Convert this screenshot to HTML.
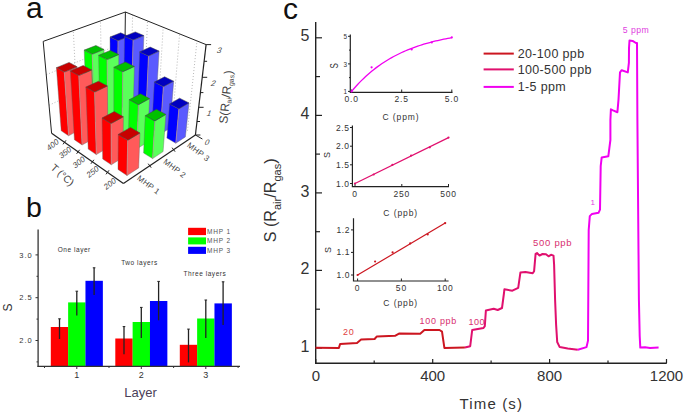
<!DOCTYPE html>
<html><head><meta charset="utf-8"><style>
html,body{margin:0;padding:0;background:#fff;}
body{width:685px;height:414px;overflow:hidden;}
svg{display:block;}
</style></head><body>
<svg width="685" height="414" viewBox="0 0 685 414" font-family="Liberation Sans, sans-serif">
<rect width="685" height="414" fill="#fff"/>
<g id="pa">
<line x1="77.9" y1="119.8" x2="73.3" y2="30.7" stroke="#999" stroke-width="0.7" stroke-dasharray="1,2" fill="none"/>
<line x1="102.0" y1="107.5" x2="100.5" y2="20.9" stroke="#999" stroke-width="0.7" stroke-dasharray="1,2" fill="none"/>
<line x1="49.1" y1="105.2" x2="124.6" y2="70.1" stroke="#999" stroke-width="0.7" stroke-dasharray="1,2" fill="none"/>
<line x1="46.3" y1="74.7" x2="125.0" y2="42.1" stroke="#999" stroke-width="0.7" stroke-dasharray="1,2" fill="none"/>
<line x1="187.5" y1="130.7" x2="197.0" y2="40.9" stroke="#999" stroke-width="0.7" stroke-dasharray="1,2" fill="none"/>
<line x1="172.3" y1="122.4" x2="179.6" y2="33.9" stroke="#999" stroke-width="0.7" stroke-dasharray="1,2" fill="none"/>
<line x1="157.8" y1="114.4" x2="163.2" y2="27.2" stroke="#999" stroke-width="0.7" stroke-dasharray="1,2" fill="none"/>
<line x1="143.9" y1="106.9" x2="147.5" y2="20.9" stroke="#999" stroke-width="0.7" stroke-dasharray="1,2" fill="none"/>
<line x1="130.7" y1="99.6" x2="132.6" y2="14.9" stroke="#999" stroke-width="0.7" stroke-dasharray="1,2" fill="none"/>
<line x1="51.6" y1="133.3" x2="43.2" y2="41.4" stroke="#222" stroke-width="1" fill="none"/>
<line x1="43.2" y1="41.4" x2="125.4" y2="12.0" stroke="#222" stroke-width="1" fill="none"/>
<line x1="125.4" y1="12.0" x2="206.1" y2="44.6" stroke="#222" stroke-width="1" fill="none"/>
<line x1="124.3" y1="96.1" x2="125.4" y2="12.0" stroke="#222" stroke-width="1" fill="none"/>
<line x1="195.4" y1="135.0" x2="206.1" y2="44.6" stroke="#222" stroke-width="1.2"/>
<line x1="123.4" y1="183.4" x2="51.6" y2="133.3" stroke="#222" stroke-width="1.2"/>
<line x1="123.4" y1="183.4" x2="195.4" y2="135.0" stroke="#222" stroke-width="1.2"/>
<polygon points="117.7,109.7 110.4,105.4 110.0,37.0 118.0,40.7" fill="#0000ff" stroke="#666" stroke-width="0.4"/>
<polygon points="117.7,109.7 127.5,104.5 128.8,36.4 118.0,40.7" fill="#5a5aff" stroke="#666" stroke-width="0.4"/>
<polygon points="118.0,40.7 110.0,37.0 120.7,32.8 128.8,36.4" fill="#0000c0" stroke="#444" stroke-width="0.5"/>
<line x1="117.7" y1="109.7" x2="118.0" y2="40.7" stroke="#ffb0b0" stroke-opacity="0.6" stroke-width="0.6"/>
<polygon points="131.2,117.5 123.5,113.0 124.5,36.3 133.1,40.1" fill="#0000ff" stroke="#666" stroke-width="0.4"/>
<polygon points="131.2,117.5 141.0,112.0 143.9,35.6 133.1,40.1" fill="#5a5aff" stroke="#666" stroke-width="0.4"/>
<polygon points="133.1,40.1 124.5,36.3 135.3,31.9 143.9,35.6" fill="#0000c0" stroke="#444" stroke-width="0.5"/>
<line x1="131.2" y1="117.5" x2="133.1" y2="40.1" stroke="#ffb0b0" stroke-opacity="0.6" stroke-width="0.6"/>
<polygon points="94.2,122.2 86.8,117.6 84.2,50.1 92.2,54.2" fill="#00ff00" stroke="#666" stroke-width="0.4"/>
<polygon points="94.2,122.2 104.9,116.5 104.0,49.4 92.2,54.2" fill="#5aff5a" stroke="#666" stroke-width="0.4"/>
<polygon points="92.2,54.2 84.2,50.1 95.9,45.5 104.0,49.4" fill="#00c000" stroke="#444" stroke-width="0.5"/>
<line x1="94.2" y1="122.2" x2="92.2" y2="54.2" stroke="#ffb0b0" stroke-opacity="0.6" stroke-width="0.6"/>
<polygon points="145.4,125.7 137.3,121.0 139.6,51.9 148.5,56.0" fill="#0000ff" stroke="#666" stroke-width="0.4"/>
<polygon points="145.4,125.7 155.1,119.9 159.1,51.1 148.5,56.0" fill="#5a5aff" stroke="#666" stroke-width="0.4"/>
<polygon points="148.5,56.0 139.6,51.9 150.2,47.1 159.1,51.1" fill="#0000c0" stroke="#444" stroke-width="0.5"/>
<line x1="145.4" y1="125.7" x2="148.5" y2="56.0" stroke="#ffb0b0" stroke-opacity="0.6" stroke-width="0.6"/>
<polygon points="107.7,130.6 100.0,125.8 98.6,55.3 107.1,59.6" fill="#00ff00" stroke="#666" stroke-width="0.4"/>
<polygon points="107.7,130.6 118.4,124.7 118.8,54.5 107.1,59.6" fill="#5aff5a" stroke="#666" stroke-width="0.4"/>
<polygon points="107.1,59.6 98.6,55.3 110.3,50.4 118.8,54.5" fill="#00c000" stroke="#444" stroke-width="0.5"/>
<line x1="107.7" y1="130.6" x2="107.1" y2="59.6" stroke="#ffb0b0" stroke-opacity="0.6" stroke-width="0.6"/>
<polygon points="160.2,134.2 151.7,129.3 154.3,82.1 163.4,86.7" fill="#0000ff" stroke="#666" stroke-width="0.4"/>
<polygon points="160.2,134.2 169.9,128.2 173.7,81.2 163.4,86.7" fill="#5a5aff" stroke="#666" stroke-width="0.4"/>
<polygon points="163.4,86.7 154.3,82.1 164.6,76.8 173.7,81.2" fill="#0000c0" stroke="#444" stroke-width="0.5"/>
<line x1="160.2" y1="134.2" x2="163.4" y2="86.7" stroke="#ffb0b0" stroke-opacity="0.6" stroke-width="0.6"/>
<polygon points="68.6,135.8 61.2,130.8 56.4,67.7 64.3,72.1" fill="#ff0000" stroke="#666" stroke-width="0.4"/>
<polygon points="68.6,135.8 80.2,129.6 77.1,66.8 64.3,72.1" fill="#ff5a5a" stroke="#666" stroke-width="0.4"/>
<polygon points="64.3,72.1 56.4,67.7 69.1,62.4 77.1,66.8" fill="#c80000" stroke="#444" stroke-width="0.5"/>
<line x1="68.6" y1="135.8" x2="64.3" y2="72.1" stroke="#ffb0b0" stroke-opacity="0.6" stroke-width="0.6"/>
<polygon points="121.9,139.5 113.8,134.4 113.8,67.3 122.7,71.8" fill="#00ff00" stroke="#666" stroke-width="0.4"/>
<polygon points="121.9,139.5 132.6,133.2 134.4,66.4 122.7,71.8" fill="#5aff5a" stroke="#666" stroke-width="0.4"/>
<polygon points="122.7,71.8 113.8,67.3 125.4,62.0 134.4,66.4" fill="#00c000" stroke="#444" stroke-width="0.5"/>
<line x1="121.9" y1="139.5" x2="122.7" y2="71.8" stroke="#ffb0b0" stroke-opacity="0.6" stroke-width="0.6"/>
<polygon points="175.8,143.2 166.9,138.1 169.5,104.0 178.9,108.9" fill="#0000ff" stroke="#666" stroke-width="0.4"/>
<polygon points="175.8,143.2 185.4,136.9 189.0,102.9 178.9,108.9" fill="#5a5aff" stroke="#666" stroke-width="0.4"/>
<polygon points="178.9,108.9 169.5,104.0 179.6,98.2 189.0,102.9" fill="#0000c0" stroke="#444" stroke-width="0.5"/>
<line x1="175.8" y1="143.2" x2="178.9" y2="108.9" stroke="#ffb0b0" stroke-opacity="0.6" stroke-width="0.6"/>
<polygon points="82.1,145.0 74.4,139.7 70.3,70.9 78.8,75.6" fill="#ff0000" stroke="#666" stroke-width="0.4"/>
<polygon points="82.1,145.0 93.7,138.5 91.7,70.0 78.8,75.6" fill="#ff5a5a" stroke="#666" stroke-width="0.4"/>
<polygon points="78.8,75.6 70.3,70.9 83.2,65.5 91.7,70.0" fill="#c80000" stroke="#444" stroke-width="0.5"/>
<line x1="82.1" y1="145.0" x2="78.8" y2="75.6" stroke="#ffb0b0" stroke-opacity="0.6" stroke-width="0.6"/>
<polygon points="136.9,148.8 128.3,143.5 129.2,99.7 138.4,104.7" fill="#00ff00" stroke="#666" stroke-width="0.4"/>
<polygon points="136.9,148.8 147.5,142.2 149.6,98.6 138.4,104.7" fill="#5aff5a" stroke="#666" stroke-width="0.4"/>
<polygon points="138.4,104.7 129.2,99.7 140.5,93.8 149.6,98.6" fill="#00c000" stroke="#444" stroke-width="0.5"/>
<line x1="136.9" y1="148.8" x2="138.4" y2="104.7" stroke="#ffb0b0" stroke-opacity="0.6" stroke-width="0.6"/>
<polygon points="96.3,154.6 88.2,149.1 85.8,87.1 94.6,92.1" fill="#ff0000" stroke="#666" stroke-width="0.4"/>
<polygon points="96.3,154.6 107.9,147.8 107.4,86.0 94.6,92.1" fill="#ff5a5a" stroke="#666" stroke-width="0.4"/>
<polygon points="94.6,92.1 85.8,87.1 98.5,81.2 107.4,86.0" fill="#c80000" stroke="#444" stroke-width="0.5"/>
<line x1="96.3" y1="154.6" x2="94.6" y2="92.1" stroke="#ffb0b0" stroke-opacity="0.6" stroke-width="0.6"/>
<polygon points="152.6,158.6 143.6,153.0 145.2,115.7 154.8,121.0" fill="#00ff00" stroke="#666" stroke-width="0.4"/>
<polygon points="152.6,158.6 163.1,151.6 165.9,114.4 154.8,121.0" fill="#5aff5a" stroke="#666" stroke-width="0.4"/>
<polygon points="154.8,121.0 145.2,115.7 156.4,109.3 165.9,114.4" fill="#00c000" stroke="#444" stroke-width="0.5"/>
<line x1="152.6" y1="158.6" x2="154.8" y2="121.0" stroke="#ffb0b0" stroke-opacity="0.6" stroke-width="0.6"/>
<polygon points="111.3,164.8 102.7,159.0 102.0,118.0 111.1,123.5" fill="#ff0000" stroke="#666" stroke-width="0.4"/>
<polygon points="111.3,164.8 122.9,157.5 123.4,116.8 111.1,123.5" fill="#ff5a5a" stroke="#666" stroke-width="0.4"/>
<polygon points="111.1,123.5 102.0,118.0 114.3,111.5 123.4,116.8" fill="#c80000" stroke="#444" stroke-width="0.5"/>
<line x1="111.3" y1="164.8" x2="111.1" y2="123.5" stroke="#ffb0b0" stroke-opacity="0.6" stroke-width="0.6"/>
<polygon points="127.0,175.6 118.0,169.4 118.2,134.4 127.7,140.3" fill="#ff0000" stroke="#666" stroke-width="0.4"/>
<polygon points="127.0,175.6 138.7,167.9 140.0,133.0 127.7,140.3" fill="#ff5a5a" stroke="#666" stroke-width="0.4"/>
<polygon points="127.7,140.3 118.2,134.4 130.5,127.4 140.0,133.0" fill="#c80000" stroke="#444" stroke-width="0.5"/>
<line x1="127.0" y1="175.6" x2="127.7" y2="140.3" stroke="#ffb0b0" stroke-opacity="0.6" stroke-width="0.6"/>
<line x1="195.4" y1="135.0" x2="200.4" y2="135.0" stroke="#222" stroke-width="1"/>
<line x1="197.0" y1="121.5" x2="200.0" y2="121.5" stroke="#222" stroke-width="1"/>
<line x1="198.6" y1="107.3" x2="203.6" y2="107.3" stroke="#222" stroke-width="1"/>
<line x1="200.4" y1="92.6" x2="203.4" y2="92.6" stroke="#222" stroke-width="1"/>
<line x1="202.2" y1="77.3" x2="207.2" y2="77.3" stroke="#222" stroke-width="1"/>
<line x1="204.1" y1="61.3" x2="207.1" y2="61.3" stroke="#222" stroke-width="1"/>
<line x1="206.1" y1="44.6" x2="211.1" y2="44.6" stroke="#222" stroke-width="1"/>
<line x1="109.0" y1="170.3" x2="106.0" y2="174.3" stroke="#222" stroke-width="1"/>
<line x1="93.9" y1="159.8" x2="90.9" y2="163.8" stroke="#222" stroke-width="1"/>
<line x1="79.6" y1="149.8" x2="76.6" y2="153.8" stroke="#222" stroke-width="1"/>
<line x1="66.0" y1="140.3" x2="63.0" y2="144.3" stroke="#222" stroke-width="1"/>
<line x1="148.2" y1="163.7" x2="151.2" y2="167.7" stroke="#222" stroke-width="1"/>
<line x1="172.1" y1="147.7" x2="175.1" y2="151.7" stroke="#222" stroke-width="1"/>
<line x1="195.4" y1="135.0" x2="202.4" y2="139.0" stroke="#222" stroke-width="1"/>
<text x="0" y="0" transform="translate(52.8,144.9) rotate(-38) skewX(-10)" text-anchor="middle" dominant-baseline="central" font-size="8" fill="#444" font-family="Liberation Sans, sans-serif">400</text>
<text x="0" y="0" transform="translate(65.4,152.7) rotate(-38) skewX(-10)" text-anchor="middle" dominant-baseline="central" font-size="8" fill="#444" font-family="Liberation Sans, sans-serif">350</text>
<text x="0" y="0" transform="translate(79.1,162.5) rotate(-38) skewX(-10)" text-anchor="middle" dominant-baseline="central" font-size="8" fill="#444" font-family="Liberation Sans, sans-serif">300</text>
<text x="0" y="0" transform="translate(92.9,172) rotate(-38) skewX(-10)" text-anchor="middle" dominant-baseline="central" font-size="8" fill="#444" font-family="Liberation Sans, sans-serif">250</text>
<text x="0" y="0" transform="translate(110,183.8) rotate(-38) skewX(-10)" text-anchor="middle" dominant-baseline="central" font-size="8" fill="#444" font-family="Liberation Sans, sans-serif">200</text>
<text transform="translate(62.5,174.9) rotate(42)" text-anchor="middle" dominant-baseline="central" font-size="10.2" fill="#444" font-family="Liberation Sans, sans-serif">T (°C)</text>
<text transform="translate(148.4,185) rotate(37)" text-anchor="middle" dominant-baseline="central" font-size="8" letter-spacing="0.3" fill="#444" font-family="Liberation Sans, sans-serif">MHP 1</text>
<text transform="translate(174.6,168.5) rotate(37)" text-anchor="middle" dominant-baseline="central" font-size="8" letter-spacing="0.3" fill="#444" font-family="Liberation Sans, sans-serif">MHP 2</text>
<text transform="translate(198.3,152) rotate(37)" text-anchor="middle" dominant-baseline="central" font-size="8" letter-spacing="0.3" fill="#444" font-family="Liberation Sans, sans-serif">MHP 3</text>
<text transform="translate(219.3,50.5) skewX(-20)" text-anchor="middle" dominant-baseline="central" font-size="8" fill="#444" font-family="Liberation Sans, sans-serif">3</text>
<text transform="translate(213.3,83.1) skewX(-20)" text-anchor="middle" dominant-baseline="central" font-size="8" fill="#444" font-family="Liberation Sans, sans-serif">2</text>
<text transform="translate(209.2,113.3) skewX(-20)" text-anchor="middle" dominant-baseline="central" font-size="8" fill="#444" font-family="Liberation Sans, sans-serif">1</text>
<text transform="translate(207.2,143) skewX(-20)" text-anchor="middle" dominant-baseline="central" font-size="8" fill="#444" font-family="Liberation Sans, sans-serif">0</text>
<text transform="translate(226,97) rotate(-84)" text-anchor="middle" dominant-baseline="central" font-size="12" fill="#444" font-family="Liberation Sans, sans-serif">S(R<tspan font-size="7" dy="3">ai</tspan><tspan dy="-3">/R</tspan><tspan font-size="7" dy="3">gas</tspan><tspan dy="-3">)</tspan></text>
<text x="26" y="18.4" font-size="30" fill="#111" font-family="Liberation Sans, sans-serif">a</text>
</g>
<g id="pb">
<text x="26" y="216.8" font-size="28.5" fill="#111" font-family="Liberation Sans, sans-serif">b</text>
<rect x="50.80" y="327.0" width="17.4" height="39.2" fill="#ff0000"/>
<rect x="68.13" y="302.4" width="17.4" height="63.8" fill="#00ff00"/>
<rect x="85.46" y="280.8" width="17.4" height="85.4" fill="#0000ff"/>
<line x1="59.5" y1="318.8" x2="59.5" y2="339" stroke="#222" stroke-width="1.3"/>
<line x1="58.2" y1="318.8" x2="60.8" y2="318.8" stroke="#222" stroke-width="1"/>
<line x1="76.8" y1="291.2" x2="76.8" y2="315.4" stroke="#222" stroke-width="1.3"/>
<line x1="75.5" y1="291.2" x2="78.1" y2="291.2" stroke="#222" stroke-width="1"/>
<line x1="94.1" y1="267.8" x2="94.1" y2="294.9" stroke="#222" stroke-width="1.3"/>
<line x1="92.8" y1="267.8" x2="95.4" y2="267.8" stroke="#222" stroke-width="1"/>
<rect x="115.30" y="338.5" width="17.4" height="27.7" fill="#ff0000"/>
<rect x="132.63" y="322.0" width="17.4" height="44.2" fill="#00ff00"/>
<rect x="149.96" y="301.0" width="17.4" height="65.2" fill="#0000ff"/>
<line x1="124.0" y1="326.6" x2="124.0" y2="354.3" stroke="#222" stroke-width="1.3"/>
<line x1="122.7" y1="326.6" x2="125.3" y2="326.6" stroke="#222" stroke-width="1"/>
<line x1="141.3" y1="307.4" x2="141.3" y2="337.9" stroke="#222" stroke-width="1.3"/>
<line x1="140.0" y1="307.4" x2="142.6" y2="307.4" stroke="#222" stroke-width="1"/>
<line x1="158.6" y1="281.4" x2="158.6" y2="320.3" stroke="#222" stroke-width="1.3"/>
<line x1="157.3" y1="281.4" x2="159.9" y2="281.4" stroke="#222" stroke-width="1"/>
<rect x="179.80" y="344.8" width="17.4" height="21.4" fill="#ff0000"/>
<rect x="197.13" y="318.5" width="17.4" height="47.7" fill="#00ff00"/>
<rect x="214.46" y="303.4" width="17.4" height="62.8" fill="#0000ff"/>
<line x1="188.5" y1="329.1" x2="188.5" y2="362.4" stroke="#222" stroke-width="1.3"/>
<line x1="187.2" y1="329.1" x2="189.8" y2="329.1" stroke="#222" stroke-width="1"/>
<line x1="205.8" y1="300" x2="205.8" y2="337.9" stroke="#222" stroke-width="1.3"/>
<line x1="204.5" y1="300" x2="207.1" y2="300" stroke="#222" stroke-width="1"/>
<line x1="223.1" y1="281.8" x2="223.1" y2="324.9" stroke="#222" stroke-width="1.3"/>
<line x1="221.8" y1="281.8" x2="224.4" y2="281.8" stroke="#222" stroke-width="1"/>
<line x1="38.1" y1="229.6" x2="38.1" y2="367" stroke="#333" stroke-width="1.3"/>
<line x1="37.5" y1="366.3" x2="240" y2="366.3" stroke="#333" stroke-width="1.3"/>
<line x1="35.5" y1="340.5" x2="38" y2="340.5" stroke="#333" stroke-width="1"/>
<text x="32.5" y="343.2" text-anchor="end" font-size="7.5" letter-spacing="0.9" fill="#333" font-family="Liberation Sans, sans-serif">2.0</text>
<line x1="35.5" y1="297.7" x2="38" y2="297.7" stroke="#333" stroke-width="1"/>
<text x="32.5" y="300.4" text-anchor="end" font-size="7.5" letter-spacing="0.9" fill="#333" font-family="Liberation Sans, sans-serif">2.5</text>
<line x1="35.5" y1="254.9" x2="38" y2="254.9" stroke="#333" stroke-width="1"/>
<text x="32.5" y="257.6" text-anchor="end" font-size="7.5" letter-spacing="0.9" fill="#333" font-family="Liberation Sans, sans-serif">3.0</text>
<line x1="36.5" y1="361.9" x2="38" y2="361.9" stroke="#333" stroke-width="1"/>
<line x1="36.5" y1="319.1" x2="38" y2="319.1" stroke="#333" stroke-width="1"/>
<line x1="36.5" y1="276.3" x2="38" y2="276.3" stroke="#333" stroke-width="1"/>
<line x1="76.8" y1="366.3" x2="76.8" y2="369" stroke="#333" stroke-width="1"/>
<text x="76.8" y="378.2" text-anchor="middle" font-size="9" fill="#333" font-family="Liberation Sans, sans-serif">1</text>
<line x1="109.0" y1="366.3" x2="109.0" y2="368" stroke="#333" stroke-width="1"/>
<line x1="141.3" y1="366.3" x2="141.3" y2="369" stroke="#333" stroke-width="1"/>
<text x="141.3" y="378.2" text-anchor="middle" font-size="9" fill="#333" font-family="Liberation Sans, sans-serif">2</text>
<line x1="173.6" y1="366.3" x2="173.6" y2="368" stroke="#333" stroke-width="1"/>
<line x1="205.8" y1="366.3" x2="205.8" y2="369" stroke="#333" stroke-width="1"/>
<text x="205.8" y="378.2" text-anchor="middle" font-size="9" fill="#333" font-family="Liberation Sans, sans-serif">3</text>
<line x1="238.1" y1="366.3" x2="238.1" y2="368" stroke="#333" stroke-width="1"/>
<line x1="44.5" y1="366.3" x2="44.5" y2="368" stroke="#333" stroke-width="1"/>
<text x="140.5" y="397.2" text-anchor="middle" font-size="13" fill="#4a4058" font-family="Liberation Sans, sans-serif">Layer</text>
<text transform="translate(12.2,307.5) rotate(-90)" text-anchor="middle" font-size="12" fill="#333" font-family="Liberation Sans, sans-serif">S</text>
<text x="57.7" y="252" font-size="6.5" letter-spacing="0.55" fill="#333" font-family="Liberation Sans, sans-serif">One layer</text>
<text x="121.2" y="265" font-size="6.5" letter-spacing="0.55" fill="#333" font-family="Liberation Sans, sans-serif">Two layers</text>
<text x="183.6" y="275.5" font-size="6.5" letter-spacing="0.55" fill="#333" font-family="Liberation Sans, sans-serif">Three layers</text>
<rect x="188.1" y="227.8" width="17.9" height="7.3" fill="#ff0000"/>
<text x="207.1" y="233.8" font-size="6.5" letter-spacing="0.8" fill="#555" font-family="Liberation Sans, sans-serif">MHP 1</text>
<rect x="188.1" y="237.4" width="17.9" height="7.0" fill="#00ff00"/>
<text x="207.1" y="243.1" font-size="6.5" letter-spacing="0.8" fill="#555" font-family="Liberation Sans, sans-serif">MHP 2</text>
<rect x="188.1" y="246.8" width="17.9" height="7.1" fill="#0000ff"/>
<text x="207.1" y="252.6" font-size="6.5" letter-spacing="0.8" fill="#555" font-family="Liberation Sans, sans-serif">MHP 3</text>
</g>
<g id="pc">
<text x="283" y="18.7" font-size="30" fill="#111" font-family="Liberation Sans, sans-serif">c</text>
<line x1="315.7" y1="22" x2="315.7" y2="364" stroke="#222" stroke-width="1.4"/>
<line x1="315" y1="363.3" x2="666.8" y2="363.3" stroke="#222" stroke-width="1.4"/>
<line x1="315.8" y1="363" x2="315.8" y2="359" stroke="#222" stroke-width="1.2"/>
<text x="315.8" y="381.2" text-anchor="middle" font-size="15" fill="#333" font-family="Liberation Sans, sans-serif">0</text>
<line x1="432.7" y1="363" x2="432.7" y2="359" stroke="#222" stroke-width="1.2"/>
<text x="432.7" y="381.2" text-anchor="middle" font-size="15" fill="#333" font-family="Liberation Sans, sans-serif">400</text>
<line x1="549.6" y1="363" x2="549.6" y2="359" stroke="#222" stroke-width="1.2"/>
<text x="549.6" y="381.2" text-anchor="middle" font-size="15" fill="#333" font-family="Liberation Sans, sans-serif">800</text>
<line x1="666.5" y1="363" x2="666.5" y2="359" stroke="#222" stroke-width="1.2"/>
<text x="666.5" y="381.2" text-anchor="middle" font-size="15" fill="#333" font-family="Liberation Sans, sans-serif">1200</text>
<line x1="374.2" y1="363" x2="374.2" y2="360.5" stroke="#222" stroke-width="1.2"/>
<line x1="491.1" y1="363" x2="491.1" y2="360.5" stroke="#222" stroke-width="1.2"/>
<line x1="608.0" y1="363" x2="608.0" y2="360.5" stroke="#222" stroke-width="1.2"/>
<line x1="315.7" y1="348.0" x2="322" y2="348.0" stroke="#222" stroke-width="1.2"/>
<text x="309.5" y="351.6" text-anchor="end" font-size="16" fill="#333" font-family="Liberation Sans, sans-serif">1</text>
<line x1="315.7" y1="270.4" x2="322" y2="270.4" stroke="#222" stroke-width="1.2"/>
<text x="309.5" y="274.1" text-anchor="end" font-size="16" fill="#333" font-family="Liberation Sans, sans-serif">2</text>
<line x1="315.7" y1="192.9" x2="322" y2="192.9" stroke="#222" stroke-width="1.2"/>
<text x="309.5" y="196.5" text-anchor="end" font-size="16" fill="#333" font-family="Liberation Sans, sans-serif">3</text>
<line x1="315.7" y1="115.4" x2="322" y2="115.4" stroke="#222" stroke-width="1.2"/>
<text x="309.5" y="119.0" text-anchor="end" font-size="16" fill="#333" font-family="Liberation Sans, sans-serif">4</text>
<line x1="315.7" y1="37.8" x2="322" y2="37.8" stroke="#222" stroke-width="1.2"/>
<text x="309.5" y="41.4" text-anchor="end" font-size="16" fill="#333" font-family="Liberation Sans, sans-serif">5</text>
<line x1="315.7" y1="309.2" x2="320" y2="309.2" stroke="#222" stroke-width="1.2"/>
<line x1="315.7" y1="231.7" x2="320" y2="231.7" stroke="#222" stroke-width="1.2"/>
<line x1="315.7" y1="154.1" x2="320" y2="154.1" stroke="#222" stroke-width="1.2"/>
<line x1="315.7" y1="76.6" x2="320" y2="76.6" stroke="#222" stroke-width="1.2"/>
<text transform="translate(275.5,200.4) rotate(-90)" text-anchor="middle" font-size="16.2" fill="#333" font-family="Liberation Sans, sans-serif">S (R<tspan font-size="11" dy="5">air</tspan><tspan dy="-5">/R</tspan><tspan font-size="11" dy="5">gas</tspan><tspan dy="-5">)</tspan></text>
<text x="459.5" y="409.3" font-size="15" letter-spacing="1.15" fill="#333" font-family="Liberation Sans, sans-serif">Time (s)</text>
<polyline points="315.5,347.7 338.9,347.9 340.1,344 357,343 361.1,339.5 374.6,339 376.9,336.4 395,335.8 399,333.6 420.2,333.8 424.4,330 439.5,330 442,331.6 444.4,347.9 464.9,347.5" fill="none" stroke="#cc1620" stroke-width="2" stroke-linejoin="round"/>
<polyline points="464.9,347.5 470.2,346.2 472.2,330 483.5,328 484.8,326.1 485.9,310.4 493.7,308.8 497.7,310 502,308 504,293 504.4,289.3 512.4,290.7 518.2,287.8 520.4,272.6 525.4,271.9 532.7,273.3 534.1,271.2 535.6,253.8 537,253 539.5,255.6 542.5,254 546,254.3 548.5,256.3 551,254.8 553.5,255.6 554.1,264.6 555.1,300 556.1,324.6 557.2,342 559.7,347.1 567.7,348.6 577.8,349.7" fill="none" stroke="#e0106e" stroke-width="2" stroke-linejoin="round"/>
<polyline points="577.8,349.7 586.5,347.1 588,340.6 588.7,230 589.8,216.1 592,213.9 598.5,212.8 600,209.6 600.7,166 601.7,157.4 608.3,156.3 609.3,148.7 610.4,140 610.4,120 610.9,109.3 613,110.4 617.4,112.2 618.5,99.6 620,72.4 621.7,70.2 627.8,72.4 628.9,62.6 629,48 629.5,40.5 632.6,40.9 635.9,43 637,43 637.4,120 638.9,299.3 639.7,336 640.3,347.6 645,347.3 650,348 658.6,347.6" fill="none" stroke="#f000f0" stroke-width="2" stroke-linejoin="round"/>
<text x="343" y="334.9" font-size="9" letter-spacing="0.8" fill="#e04040" font-family="Liberation Sans, sans-serif">20</text>
<text x="419.6" y="323.7" font-size="9" letter-spacing="0.7" fill="#d83070" font-family="Liberation Sans, sans-serif">100 ppb</text>
<text x="468.6" y="324.5" font-size="9" letter-spacing="0.5" fill="#d83070" font-family="Liberation Sans, sans-serif">100</text>
<text x="533.1" y="246.2" font-size="9.5" letter-spacing="0.7" fill="#d83070" font-family="Liberation Sans, sans-serif">500 ppb</text>
<text x="590.5" y="204.5" font-size="8" fill="#e040e0" font-family="Liberation Sans, sans-serif">1</text>
<text x="622.7" y="32.5" font-size="8.7" letter-spacing="0.5" fill="#e040e0" font-family="Liberation Sans, sans-serif">5 ppm</text>
<line x1="483.6" y1="53.6" x2="513.8" y2="53.6" stroke="#cc1620" stroke-width="2"/>
<text x="517.7" y="58.1" font-size="12.5" letter-spacing="0.35" fill="#333" font-family="Liberation Sans, sans-serif">20-100 ppb</text>
<line x1="483.6" y1="69.4" x2="513.8" y2="69.4" stroke="#e0106e" stroke-width="2"/>
<text x="517.7" y="73.9" font-size="12.5" letter-spacing="0.35" fill="#333" font-family="Liberation Sans, sans-serif">100-500 ppb</text>
<line x1="483.6" y1="86.9" x2="513.8" y2="86.9" stroke="#f000f0" stroke-width="2"/>
<text x="517.7" y="91.4" font-size="12.5" letter-spacing="0.35" fill="#333" font-family="Liberation Sans, sans-serif">1-5 ppm</text>
</g>
<g id="insets">
<polyline points="350.3,34.5 350.3,92.3 452.5,92.3" fill="none" stroke="#222" stroke-width="1.2"/>
<line x1="348" y1="91.4" x2="350.3" y2="91.4" stroke="#222" stroke-width="1"/>
<text transform="translate(347,94.3) scale(0.8,1)" text-anchor="end" font-size="8" fill="#333" font-family="Liberation Sans, sans-serif">1</text>
<line x1="348" y1="63.9" x2="350.3" y2="63.9" stroke="#222" stroke-width="1"/>
<text transform="translate(347,66.8) scale(0.8,1)" text-anchor="end" font-size="8" fill="#333" font-family="Liberation Sans, sans-serif">3</text>
<line x1="348" y1="36.3" x2="350.3" y2="36.3" stroke="#222" stroke-width="1"/>
<text transform="translate(347,39.2) scale(0.8,1)" text-anchor="end" font-size="8" fill="#333" font-family="Liberation Sans, sans-serif">5</text>
<line x1="349" y1="77.6" x2="350.3" y2="77.6" stroke="#222" stroke-width="1"/>
<line x1="349" y1="50.1" x2="350.3" y2="50.1" stroke="#222" stroke-width="1"/>
<line x1="351.6" y1="92.3" x2="351.6" y2="89.5" stroke="#222" stroke-width="1"/>
<text x="351.6" y="102" text-anchor="middle" font-size="8.5" letter-spacing="0.8" fill="#333" font-family="Liberation Sans, sans-serif">0.0</text>
<line x1="401.7" y1="92.3" x2="401.7" y2="89.5" stroke="#222" stroke-width="1"/>
<text x="401.7" y="102" text-anchor="middle" font-size="8.5" letter-spacing="0.8" fill="#333" font-family="Liberation Sans, sans-serif">2.5</text>
<line x1="451.8" y1="92.3" x2="451.8" y2="89.5" stroke="#222" stroke-width="1"/>
<text x="451.8" y="102" text-anchor="middle" font-size="8.5" letter-spacing="0.8" fill="#333" font-family="Liberation Sans, sans-serif">5.0</text>
<text x="401" y="119.5" text-anchor="middle" font-size="8.5" letter-spacing="0.9" fill="#333" font-family="Liberation Sans, sans-serif">C (ppm)</text>
<text transform="translate(338.3,65.8) rotate(-90) scale(0.8,1)" text-anchor="middle" font-size="10" fill="#333" font-family="Liberation Sans, sans-serif">S</text>
<polyline points="351.6,91.4 353.60400000000004,89.02578903633648 355.608,86.74116010470483 357.612,84.54273315986653 359.61600000000004,82.42725569003544 361.62,80.39159790487665 363.624,78.43274810506833 365.62800000000004,76.54780822657607 367.632,74.73398955304728 369.636,72.98860858998266 371.64000000000004,71.30908309458037 373.644,69.69292825537929 375.648,68.13775301604932 377.65200000000004,66.64125653788969 379.656,65.20122479580189 381.66,63.81552730270077 383.66400000000004,62.482113957517974 385.668,61.199012012134105 387.672,59.964323152752584 389.67600000000004,58.776220691396894 391.68,57.632946863376326 393.684,56.532810226721814 395.68800000000005,55.474183159744356 397.692,54.45549945301382 399.696,53.475251992195425 401.70000000000005,52.531990528315866 403.704,51.62431953216007 405.708,50.75089612962442 407.71200000000005,49.910428114971666 409.716,49.101672039048296 411.72,48.323431369636076 413.724,47.57455472121556 415.728,46.853934151523276 417.732,46.160503522381774 419.736,45.49323692237769 421.74,44.851147149054206 423.744,44.233284248372414 425.74800000000005,43.63873410928059 427.752,43.06661711131222 429.75600000000003,42.51608682321183 431.76,41.98632875066343 433.764,41.476559131268715 435.76800000000003,40.98602377499233 437.77200000000005,40.513996948358525 439.776,40.05978030074864 441.78000000000003,39.622701831210705 443.784,39.20211489425256 445.788,38.797397243147856 447.79200000000003,38.40795010933923 449.79600000000005,38.03319731657675 451.8,37.67258442848115" fill="none" stroke="#f000f0" stroke-width="1.3" stroke-linejoin="round"/>
<circle cx="351.6" cy="91.4" r="1.1" fill="#f000f0"/>
<circle cx="371.6" cy="67.3" r="1.1" fill="#f000f0"/>
<circle cx="411.7" cy="49.4" r="1.1" fill="#f000f0"/>
<circle cx="431.8" cy="42.5" r="1.1" fill="#f000f0"/>
<circle cx="451.8" cy="37.4" r="1.1" fill="#f000f0"/>
<polyline points="352.4,125.5 352.4,186.7 449,186.7" fill="none" stroke="#222" stroke-width="1.2"/>
<line x1="350" y1="183.5" x2="352.4" y2="183.5" stroke="#222" stroke-width="1"/>
<text x="349.5" y="186.5" text-anchor="end" font-size="8.5" letter-spacing="0.6" fill="#333" font-family="Liberation Sans, sans-serif">1.0</text>
<line x1="350" y1="164.8" x2="352.4" y2="164.8" stroke="#222" stroke-width="1"/>
<text x="349.5" y="167.8" text-anchor="end" font-size="8.5" letter-spacing="0.6" fill="#333" font-family="Liberation Sans, sans-serif">1.5</text>
<line x1="350" y1="146.2" x2="352.4" y2="146.2" stroke="#222" stroke-width="1"/>
<text x="349.5" y="149.2" text-anchor="end" font-size="8.5" letter-spacing="0.6" fill="#333" font-family="Liberation Sans, sans-serif">2.0</text>
<line x1="350" y1="127.5" x2="352.4" y2="127.5" stroke="#222" stroke-width="1"/>
<text x="349.5" y="130.5" text-anchor="end" font-size="8.5" letter-spacing="0.6" fill="#333" font-family="Liberation Sans, sans-serif">2.5</text>
<line x1="355.0" y1="186.7" x2="355.0" y2="184" stroke="#222" stroke-width="1"/>
<text x="355.0" y="197" text-anchor="middle" font-size="8.5" letter-spacing="0.8" fill="#333" font-family="Liberation Sans, sans-serif">0</text>
<line x1="401.8" y1="186.7" x2="401.8" y2="184" stroke="#222" stroke-width="1"/>
<text x="401.8" y="197" text-anchor="middle" font-size="8.5" letter-spacing="0.8" fill="#333" font-family="Liberation Sans, sans-serif">250</text>
<line x1="448.5" y1="186.7" x2="448.5" y2="184" stroke="#222" stroke-width="1"/>
<text x="448.5" y="197" text-anchor="middle" font-size="8.5" letter-spacing="0.8" fill="#333" font-family="Liberation Sans, sans-serif">500</text>
<text x="400.7" y="216" text-anchor="middle" font-size="8.5" letter-spacing="0.9" fill="#333" font-family="Liberation Sans, sans-serif">C (ppb)</text>
<text transform="translate(330,155) rotate(-90)" text-anchor="middle" font-size="9" fill="#333" font-family="Liberation Sans, sans-serif">S</text>
<line x1="355.0" y1="183.5" x2="448.5" y2="137.6" stroke="#e0106e" stroke-width="1.2"/>
<circle cx="355.0" cy="183.5" r="1.1" fill="#e0106e"/>
<circle cx="373.7" cy="174.5" r="1.1" fill="#e0106e"/>
<circle cx="392.4" cy="164.8" r="1.1" fill="#e0106e"/>
<circle cx="411.1" cy="155.5" r="1.1" fill="#e0106e"/>
<circle cx="429.8" cy="147.3" r="1.1" fill="#e0106e"/>
<circle cx="448.5" cy="137.6" r="1.1" fill="#e0106e"/>
<polyline points="353.5,218.3 353.5,281 448.6,281" fill="none" stroke="#222" stroke-width="1.2"/>
<line x1="351" y1="275.0" x2="353.5" y2="275.0" stroke="#222" stroke-width="1"/>
<text x="350" y="278.0" text-anchor="end" font-size="8.5" letter-spacing="0.6" fill="#333" font-family="Liberation Sans, sans-serif">1.0</text>
<line x1="351" y1="252.4" x2="353.5" y2="252.4" stroke="#222" stroke-width="1"/>
<text x="350" y="255.4" text-anchor="end" font-size="8.5" letter-spacing="0.6" fill="#333" font-family="Liberation Sans, sans-serif">1.1</text>
<line x1="351" y1="229.9" x2="353.5" y2="229.9" stroke="#222" stroke-width="1"/>
<text x="350" y="232.9" text-anchor="end" font-size="8.5" letter-spacing="0.6" fill="#333" font-family="Liberation Sans, sans-serif">1.2</text>
<line x1="357.6" y1="281" x2="357.6" y2="278.5" stroke="#222" stroke-width="1"/>
<text x="357.6" y="291" text-anchor="middle" font-size="8.5" letter-spacing="0.8" fill="#333" font-family="Liberation Sans, sans-serif">0</text>
<line x1="401.4" y1="281" x2="401.4" y2="278.5" stroke="#222" stroke-width="1"/>
<text x="401.4" y="291" text-anchor="middle" font-size="8.5" letter-spacing="0.8" fill="#333" font-family="Liberation Sans, sans-serif">50</text>
<line x1="445.2" y1="281" x2="445.2" y2="278.5" stroke="#222" stroke-width="1"/>
<text x="445.2" y="291" text-anchor="middle" font-size="8.5" letter-spacing="0.8" fill="#333" font-family="Liberation Sans, sans-serif">100</text>
<text x="400.7" y="306" text-anchor="middle" font-size="8.5" letter-spacing="0.9" fill="#333" font-family="Liberation Sans, sans-serif">C (ppb)</text>
<text transform="translate(331,250) rotate(-90)" text-anchor="middle" font-size="9" fill="#333" font-family="Liberation Sans, sans-serif">S</text>
<line x1="357.6" y1="275.0" x2="445.2" y2="223.1" stroke="#cc1620" stroke-width="1.2"/>
<circle cx="357.6" cy="275.0" r="1.1" fill="#cc1620"/>
<circle cx="375.1" cy="261.5" r="1.1" fill="#cc1620"/>
<circle cx="392.6" cy="252.4" r="1.1" fill="#cc1620"/>
<circle cx="410.2" cy="243.4" r="1.1" fill="#cc1620"/>
<circle cx="427.7" cy="234.4" r="1.1" fill="#cc1620"/>
<circle cx="445.2" cy="223.1" r="1.1" fill="#cc1620"/>
</g>
</svg>
</body></html>
